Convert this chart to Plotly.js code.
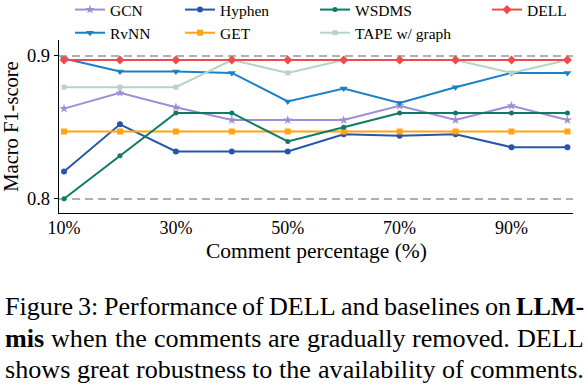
<!DOCTYPE html>
<html>
<head>
<meta charset="utf-8">
<script src="https://cdn.plot.ly/plotly-3.0.1.min.js"></script>
<style>html,body{margin:0;padding:0;background:#fff;}#chart{width:588px;height:387px;}</style>
</head>
<body>
<div id="chart"></div>
<script>
const percentages = [10, 20, 30, 40, 50, 60, 70, 80, 90, 100];
const tickVals = [10, 30, 50, 70, 90];
const tickText = ['10%', '30%', '50%', '70%', '90%'];
const gcn    = [0.863, 0.874, 0.864, 0.855, 0.855, 0.855, 0.865, 0.855, 0.865, 0.855];
const rvnn   = [0.898, 0.889, 0.889, 0.888, 0.868, 0.877, 0.867, 0.878, 0.888, 0.888];
const hyphen = [0.819, 0.852, 0.833, 0.833, 0.833, 0.845, 0.844, 0.845, 0.836, 0.836];
const get    = [0.847, 0.847, 0.847, 0.847, 0.847, 0.847, 0.847, 0.847, 0.847, 0.847];
const wsdms  = [0.800, 0.830, 0.860, 0.860, 0.840, 0.850, 0.860, 0.860, 0.860, 0.860];
const tape   = [0.878, 0.878, 0.878, 0.897, 0.888, 0.897, 0.897, 0.897, 0.888, 0.897];
const dell   = [0.897, 0.897, 0.897, 0.897, 0.897, 0.897, 0.897, 0.897, 0.897, 0.897];

const captionLines = [
  'Figure 3: Performance of DELL and baselines on **LLM-**',
  '**mis** when the comments are gradually removed. DELL',
  'shows great robustness to the availability of comments.'
];
const xTitle = 'Comment percentage (%)';
const yTitle = 'Macro F1-score';

const FONT = '"Liberation Serif", serif';

function tr(name, y, color, symbol, size, legend) {
  return {
    x: percentages, y: y, name: name, type: 'scatter', mode: 'lines+markers',
    line: {color: color, width: 2},
    marker: {color: color, symbol: symbol, size: size},
    legend: legend
  };
}

const data = [
  tr('GCN', gcn, '#9d8ed8', 'star', 7, 'legend'),
  tr('RvNN', rvnn, '#1a80c8', 'triangle-down', 7, 'legend'),
  tr('Hyphen', hyphen, '#2756a8', 'circle', 6, 'legend2'),
  tr('GET', get, '#ffa412', 'square', 6, 'legend2'),
  tr('WSDMS', wsdms, '#0f7b65', 'circle', 5, 'legend3'),
  tr('TAPE w/ graph', tape, '#b3d5c6', 'square', 5, 'legend3'),
  tr('DELL', dell, '#f04a4e', 'diamond', 7, 'legend4')
];

// plot area in pixels: x 59..573, y 40..213
const PL = 59, PW = 514, PT = 40, PB = 213, PH = PB - PT;
function pxX(px) { return (px - PL) / PW; }
function pxY(py) { return (PB - py) / PH; }

function leg(px) {
  return {x: pxX(px), y: pxY(-7), xanchor: 'left', yanchor: 'top',
          bgcolor: 'rgba(0,0,0,0)', font: {family: FONT, size: 15.5, color: '#000'},
          itemwidth: 30, tracegroupgap: 0};
}

// caption justification using canvas text metrics
const cv = document.createElement('canvas').getContext('2d');
function measure(txt, size, bold) {
  cv.font = (bold ? 'bold ' : '') + size + 'px "Liberation Serif"';
  return cv.measureText(txt).width;
}
function parse(line) {
  return line.split(' ').map(w => {
    const b = w.startsWith('**');
    return {t: b ? w.replace(/\*\*/g, '') : w, b: b};
  });
}
const LEFT = 4, RIGHT = 583;
const base = parse(captionLines[2]);
let natural = 0;
base.forEach((w, i) => { natural += measure(w.t, 24, w.b) + (i ? measure(' ', 24, false) : 0); });
const capSize = 24 * (RIGHT - LEFT) / natural;
const capY = [306, 338, 369];
const annotations = [];
captionLines.forEach((line, li) => {
  const words = parse(line);
  const ws = words.map(w => measure(w.t, capSize, w.b));
  const total = ws.reduce((a, b) => a + b, 0);
  const gap = (RIGHT - LEFT - total) / (words.length - 1);
  let x = LEFT;
  words.forEach((w, i) => {
    annotations.push({
      text: w.b ? '<b>' + w.t + '</b>' : w.t,
      xref: 'paper', yref: 'paper', x: pxX(x - 1), y: pxY(capY[li]),
      xanchor: 'left', yanchor: 'middle', showarrow: false,
      font: {family: FONT, size: capSize, color: '#000'}
    });
    x += ws[i] + gap;
  });
});
annotations.push({
  text: xTitle, xref: 'paper', yref: 'paper', x: 0.5, y: pxY(251),
  xanchor: 'center', yanchor: 'middle', showarrow: false,
  font: {family: FONT, size: 21.5, color: '#000'}
});

const layout = {
  width: 588, height: 387,
  margin: {l: PL, r: 588 - PL - PW, t: PT, b: 387 - PB, pad: 0, autoexpand: false},
  paper_bgcolor: '#fff', plot_bgcolor: '#fff',
  font: {family: FONT, color: '#000'},
  showlegend: true,
  legend: leg(70), legend2: leg(180), legend3: leg(315), legend4: leg(487),
  xaxis: {
    range: [9.1, 101], tickvals: tickVals, ticktext: tickText,
    showline: true, linecolor: '#000', linewidth: 1.2, mirror: false,
    ticks: '', showgrid: false, zeroline: false, ticklabelstandoff: -2,
    tickfont: {family: FONT, size: 18, color: '#000'}
  },
  yaxis: {
    range: [0.790, 0.911], tickvals: [0.8, 0.9], ticktext: ['0.8', '0.9'],
    showline: true, linecolor: '#000', linewidth: 1.2,
    ticks: 'outside', ticklen: 4, tickcolor: '#000',
    showgrid: true, gridcolor: '#b0b0b0', gridwidth: 2, griddash: '8px,5px', zeroline: false,
    tickfont: {family: FONT, size: 18.5, color: '#000'},
    title: {text: yTitle, font: {family: FONT, size: 20.5, color: '#000'}, standoff: 6}
  },
  annotations: annotations
};

Plotly.newPlot('chart', data, layout, {displayModeBar: false, staticPlot: true});
</script>
</body>
</html>
